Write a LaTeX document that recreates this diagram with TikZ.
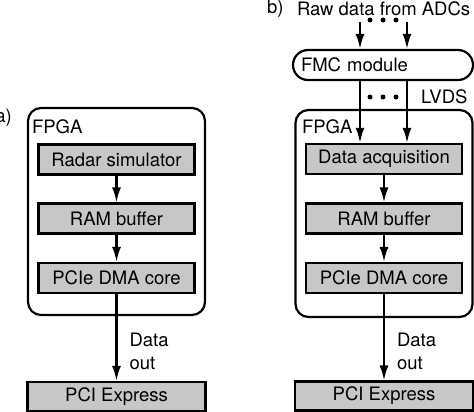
\documentclass[tikz,border=0pt]{standalone}
\usepackage{fontspec}
\setmainfont{TeX Gyre Heros}
\usetikzlibrary{arrows.meta,positioning,calc}

\begin{document}
\begin{tikzpicture}[
  x=1pt, y=-1pt,
  blk/.style={draw, fill=black!22, minimum width=156pt, minimum height=30pt, inner sep=0pt},
  frame/.style={draw, rounded corners=13pt, minimum width=177pt, minimum height=207pt, inner sep=0pt},
  bus/.style={draw, fill=black!22, minimum width=178pt, minimum height=29pt, inner sep=0pt},
  lbl/.style={inner sep=0pt},
  >={Latex[length=15pt,width=9pt]}, line width=2.2pt,
  font=\fontsize{18.5}{23}\selectfont
]
  \useasboundingbox (0,0) rectangle (474,412);

  % a) stand-alone test with simulated radar data
  \node[lbl, anchor=east] (tagA) at (13,118) {a)};
  \node[frame] (fpgaA) at (116.5,211.5) {};
  \node[lbl, anchor=west] at (31,127) {FPGA};
  \node[blk] (sim)  at (116.5,159.5) {Radar simulator};
  \node[blk] (ramA) at (116.5,218.5) {RAM buffer};
  \node[blk] (dmaA) at (116.5,278)   {PCIe DMA core};
  \node[bus] (pciA) at (116.5,396.5) {PCI Express};

  \draw[->] (sim) -- (ramA);
  \draw[->] (ramA) -- (dmaA);
  \draw[->] (dmaA) -- node[lbl, midway, right, xshift=12pt, yshift=-14pt, align=left]{Data\\out} (pciA);

  % b) acquisition of real ADC data
  \node[lbl, anchor=west] (tagB) at (266,9) {b)};
  \node[lbl, anchor=west] (adcs) at (296,9) {Raw data from ADCs};
  \coordinate (adcL) at (360,22);
  \coordinate (adcR) at (407,22);
  \foreach \dx in {370,383,396} {
    \fill (\dx,20) circle (2.5pt);
    \fill (\dx,97) circle (2.5pt);
  }
  \node[draw, rounded corners=15pt, minimum height=30pt, text width=164pt, inner xsep=8pt, inner ysep=0pt, align=left] (fmc) at (383,65) {FMC module};
  \node[lbl, anchor=west] (lvds) at (420,97) {LVDS};

  \node[frame] (fpgaB) at (384,213.5) {};
  \node[lbl, anchor=west] at (301,127) {FPGA};
  \node[blk] (acq)  at (384,159)   {Data acquisition};
  \node[blk] (ramB) at (384,218.5) {RAM buffer};
  \node[blk] (dmaB) at (384,278)   {PCIe DMA core};
  \node[bus] (pciB) at (384,396)   {PCI Express};

  \draw[->] (adcL) -- (adcL |- fmc.north);
  \draw[->] (adcR) -- (adcR |- fmc.north);
  \draw[->] (adcL |- fmc.south) -- (adcL |- acq.north);
  \draw[->] (adcR |- fmc.south) -- (adcR |- acq.north);
  \draw[->] (acq) -- (ramB);
  \draw[->] (ramB) -- (dmaB);
  \draw[->] (dmaB) -- node[lbl, midway, right, xshift=12pt, yshift=-14pt, align=left]{Data\\out} (pciB);
\end{tikzpicture}
\end{document}
